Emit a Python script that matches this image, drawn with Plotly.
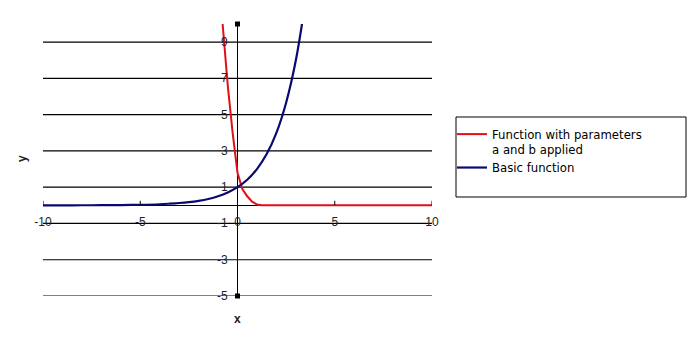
import plotly.graph_objects as go

# Data
basic_x = [-10, -9, -8, -7, -6, -5, -4, -3.5, -3, -2.5, -2, -1.5, -1, -0.5, 0, 0.5, 1, 1.5, 2, 2.5, 3, 3.5]
basic_y = [0.001, 0.002, 0.004, 0.008, 0.016, 0.03, 0.06, 0.09, 0.13, 0.18, 0.25, 0.35, 0.5, 0.71, 1.0, 1.41, 2.0, 2.83, 4.0, 5.66, 8.0, 11.3]

param_x = [-1.0, -0.75, -0.5, -0.25, 0, 0.25, 0.5, 0.75, 1.0, 1.25, 2, 4, 6, 8, 10]
param_y = [13.0, 9.8, 6.6, 4.0, 1.8, 0.9, 0.5, 0.2, 0.05, 0.0, 0.0, 0.0, 0.0, 0.0, 0.0]

x_ticks = [-10, -5, 0, 5, 10]
x_tick_labels = ["-10", "-5", "0", "5", "10"]
y_ticks = [-5, -3, -1, 1, 3, 5, 7, 9]
y_tick_labels = ["-5", "-3", "-1", "1", "3", "5", "7", "9"]

names = ["Function with parameters<br>a and b applied", "Basic function"]

FONT = "DejaVu Sans"
X_MIN, X_MAX = -10, 10
Y_MIN, Y_MAX = -5, 10

fig = go.Figure()

# horizontal gridlines as one trace
gx, gy = [], []
for v in y_ticks:
    gx += [X_MIN, X_MAX, None]
    gy += [v, v, None]
fig.add_trace(go.Scatter(x=gx, y=gy, mode="lines", showlegend=False, hoverinfo="skip",
                         line=dict(color="black", width=1.2), cliponaxis=False))

fig.add_trace(go.Scatter(x=param_x, y=param_y, mode="lines", name=names[0],
                         line=dict(color="#e01018", width=2)))
fig.add_trace(go.Scatter(x=basic_x, y=basic_y, mode="lines", name=names[1],
                         line=dict(color="#0a0a6e", width=2.2, shape="spline")))

# y axis end markers
fig.add_trace(go.Scatter(x=[0, 0], y=[Y_MAX, Y_MIN], mode="markers", showlegend=False,
                         marker=dict(symbol="square", size=5, color="black"),
                         hoverinfo="skip", cliponaxis=False))

# x tick labels as a text trace
fig.add_trace(go.Scatter(x=x_ticks, y=[-1] * len(x_ticks), mode="text", text=x_tick_labels,
                         textposition="middle center", showlegend=False, hoverinfo="skip",
                         cliponaxis=False,
                         textfont=dict(family="Liberation Sans", size=12, color="#222")))

annotations = []
for v, t in zip(y_ticks, y_tick_labels):
    annotations.append(dict(x=0, y=v, xref="x", yref="y", text=t, showarrow=False,
                            xanchor="right", yanchor="middle", xshift=-8,
                            font=dict(family="Liberation Sans", size=12, color="#222")))
annotations.append(dict(x=0, y=1 - 319 / 343, xref="x", yref="paper", text="<b>x</b>",
                        showarrow=False, xanchor="center", yanchor="middle",
                        font=dict(family="Liberation Sans", size=12, color="#222")))
annotations.append(dict(x=22 / 691, y=1 - 158 / 343, xref="paper", yref="paper", text="<b>y</b>",
                        showarrow=False, xanchor="center", yanchor="middle", textangle=-90,
                        font=dict(family="Liberation Sans", size=12, color="#222")))

shapes = []
# x axis tick marks
for v in x_ticks:
    if v != 0:
        shapes.append(dict(type="line", xref="x", yref="y", x0=v, x1=v, y0=0, y1=0.25,
                           line=dict(color="black", width=1)))
# legend box
shapes.append(dict(type="rect", xref="paper", yref="paper",
                   x0=456 / 691, x1=686 / 691, y0=1 - 197 / 343, y1=1 - 117 / 343,
                   line=dict(color="black", width=1), fillcolor="rgba(0,0,0,0)"))

fig.update_layout(
    width=691, height=343,
    margin=dict(l=0, r=0, t=0, b=0),
    paper_bgcolor="white", plot_bgcolor="white",
    showlegend=True,
    legend=dict(x=452 / 691, y=1 - 120 / 343, xanchor="left", yanchor="top",
                bgcolor="rgba(0,0,0,0)", borderwidth=0, valign="top",
                font=dict(family=FONT, size=11.7, color="black"),
                tracegroupgap=2, itemwidth=30),
    xaxis=dict(domain=[43 / 691, 432 / 691], range=[X_MIN, X_MAX], showgrid=False,
               showticklabels=False, ticks="", zeroline=True, zerolinecolor="black",
               zerolinewidth=1, showline=False, fixedrange=True),
    yaxis=dict(domain=[47 / 343, 319 / 343], range=[Y_MIN, Y_MAX], showgrid=False,
               showticklabels=False, ticks="", zeroline=True, zerolinecolor="black",
               zerolinewidth=1, showline=False, fixedrange=True),
    annotations=annotations,
    shapes=shapes,
)

fig.write_html("out.html")
